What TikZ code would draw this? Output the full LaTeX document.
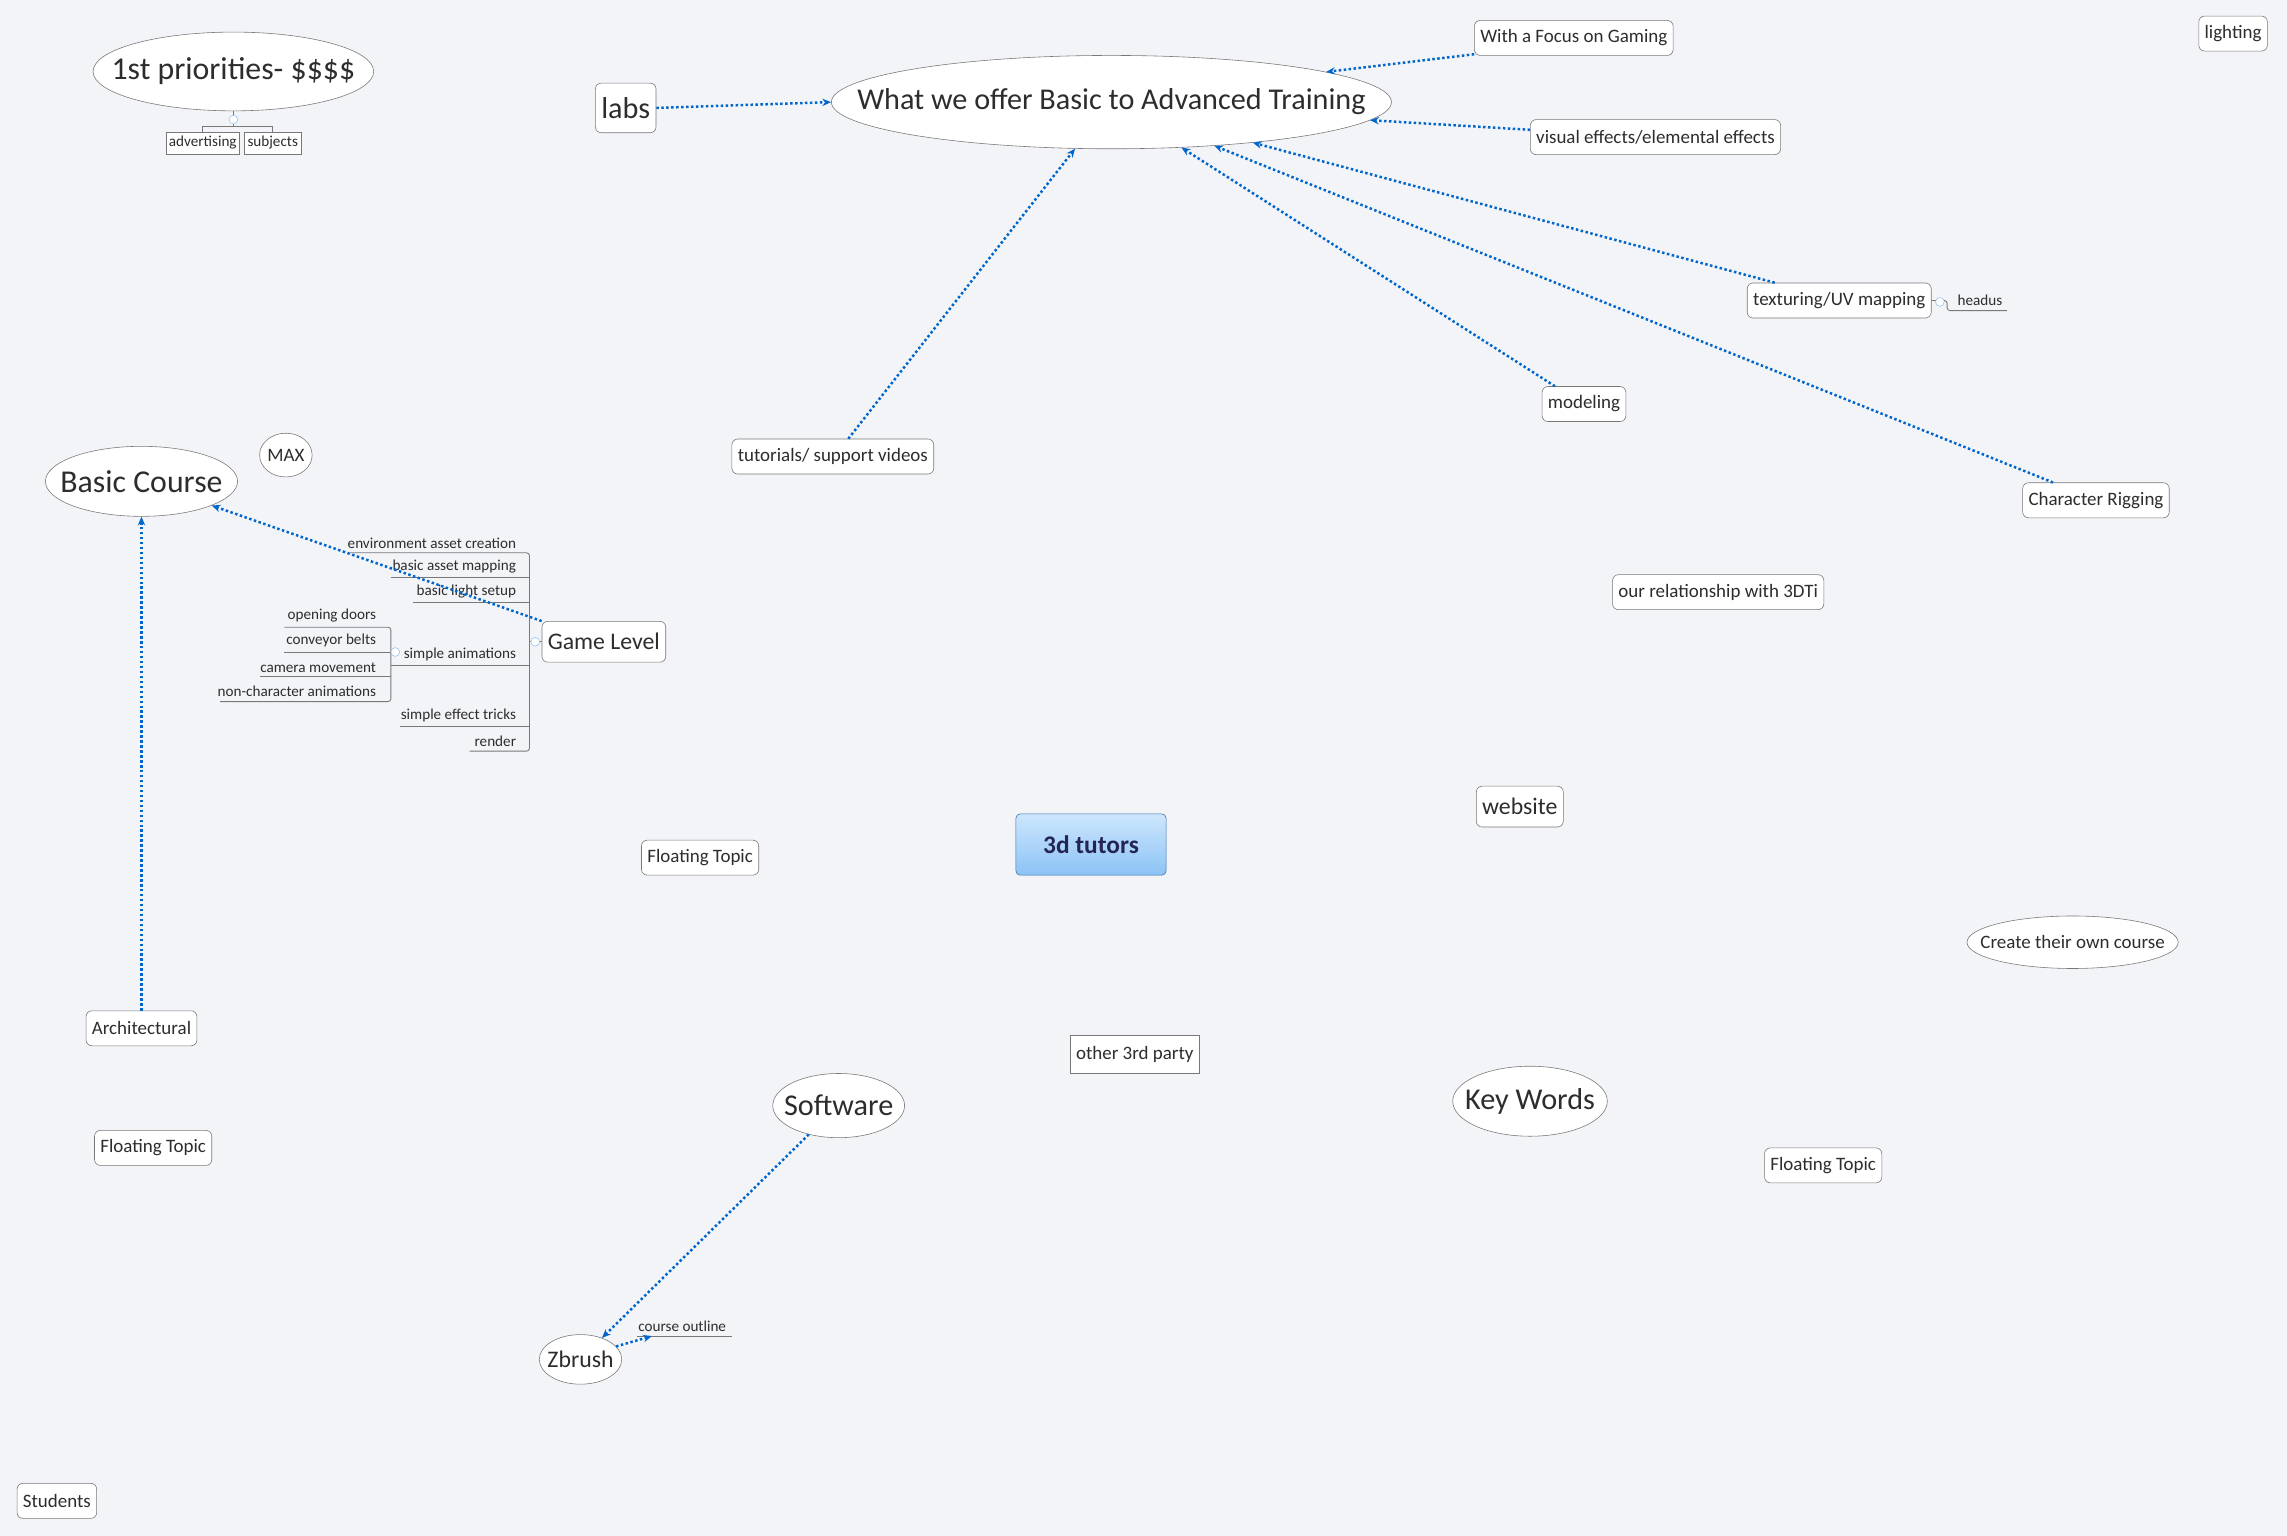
\documentclass[tikz,border=0pt]{standalone}
\usepackage{fontspec}
\setmainfont{Carlito}
\usetikzlibrary{arrows.meta,calc,shapes.geometric}
\definecolor{bg}{RGB}{243,244,247}
\definecolor{lnk}{RGB}{0,102,204}
\definecolor{txt}{RGB}{45,45,45}
\definecolor{edge}{RGB}{120,120,120}
\definecolor{tb1}{RGB}{205,230,252}
\definecolor{tb2}{RGB}{140,195,245}
\tikzset{
  x=1pt,y=-1pt,
  box/.style={draw=edge,fill=white,rounded corners=4pt,text=txt,font=\fontsize{13}{15}\selectfont,minimum height=24pt,inner xsep=4pt,inner ysep=2pt},
  ell/.style={draw=edge,fill=white,ellipse,text=txt,inner ysep=0pt},
  sub/.style={text=txt,font=\fontsize{10.4}{12}\selectfont,inner sep=1pt,anchor=south east},
  tree/.style={draw=edge,line width=0.6pt},
  link/.style={draw=lnk,line width=1.7pt,dash pattern=on 1.7pt off 1.7pt,-{Stealth[length=6pt,width=5pt,open]}},
  colmark/.style={draw=lnk!40,fill=white,circle,inner sep=0pt,minimum size=6pt}
}
\begin{document}
\begin{tikzpicture}
\fill[bg] (0,0) rectangle (1568,1053);
\useasboundingbox (0,0) rectangle (1568,1053);
% main nodes
\node[ell,inner xsep=-39pt,minimum width=384pt,minimum height=64pt,font=\fontsize{20.7}{24}\selectfont] (wwo) at (762,70) {What we offer Basic to Advanced Training};
\node[box] (focus) at (1079,26) {With a Focus on Gaming};
\node[box] (light) at (1531,23) {lighting};
\node[box] (vfx) at (1135,94) {visual effects/elemental effects};
\node[box] (tex) at (1261,206) {texturing/UV mapping};
\node[box] (mod) at (1086,277) {modeling};
\node[box] (rig) at (1437,343) {Character Rigging};
\node[box] (tut) at (571,313) {tutorials/ support videos};
\node[box,minimum height=34pt,font=\fontsize{20.7}{24}\selectfont] (labs) at (429,74) {labs};
\node[ell,inner xsep=-15.5pt,minimum width=178pt,minimum height=54pt,font=\fontsize{21.8}{26}\selectfont] (prio) at (160,49) {1st priorities- \$\$\$\$};
\node[ell,inner xsep=-9pt,minimum width=122pt,minimum height=48pt,font=\fontsize{21.8}{26}\selectfont] (basic) at (97,330) {Basic Course};
\node[ell,inner xsep=0pt,minimum width=36pt,minimum height=30pt,font=\fontsize{13}{15}\selectfont] (max) at (196,312) {MAX};
\node[box,minimum height=28pt,font=\fontsize{16.3}{19}\selectfont] (game) at (414,440) {Game Level};
\node[box] (rel) at (1178,406) {our relationship with 3DTi};
\node[box,minimum height=28pt,font=\fontsize{16.3}{19}\selectfont] (web) at (1042,553) {website};
\node[draw=lnk!60!gray,rounded corners=3pt,top color=tb1,bottom color=tb2,text=txt!80!blue,font=\fontsize{17.4}{20}\bfseries\selectfont,minimum width=103pt,minimum height=42pt] (tutors) at (748,579) {3d tutors};
\node[box] (ft1) at (480,588) {Floating Topic};
\node[ell,inner xsep=-12pt,minimum width=142pt,minimum height=36pt,font=\fontsize{13}{15}\selectfont] (own) at (1421,646) {Create their own course};
\node[draw=edge,fill=white,text=txt,font=\fontsize{13}{15}\selectfont,minimum width=89pt,minimum height=26pt,inner sep=2pt] (third) at (778,723) {other 3rd party};
\node[box] (arch) at (97,705) {Architectural};
\node[box] (ft2) at (105,787) {Floating Topic};
\node[ell,inner xsep=-5.5pt,minimum width=88pt,minimum height=44pt,font=\fontsize{20.7}{24}\selectfont] (soft) at (575,758) {Software};
\node[ell,inner xsep=-7.5pt,minimum width=106pt,minimum height=48pt,font=\fontsize{20.7}{24}\selectfont] (key) at (1049,755) {Key Words};
\node[box] (ft3) at (1250,799) {Floating Topic};
\node[ell,inner xsep=-2.7pt,minimum width=56pt,minimum height=34pt,font=\fontsize{16.3}{19}\selectfont] (zb) at (398,932) {Zbrush};
\node[box] (stud) at (39,1029) {Students};
% priorities subtopics
\node[draw=edge,fill=white,text=txt,font=\fontsize{10.4}{12}\selectfont,minimum height=15pt,inner sep=2pt] (adv) at (139,98) {advertising};
\node[draw=edge,fill=white,text=txt,font=\fontsize{10.4}{12}\selectfont,minimum height=15pt,inner sep=2pt] (subj) at (187,98) {subjects};
\draw[tree] (adv.north) |- (160,87) -| (subj.north);
\draw[tree] (160,87) -- (prio.south);
\node[colmark] (m1) at (160,82) {};
% game level tree
\coordinate (gv) at (363,440);
\draw[tree] (game.west) -- (gv);
\draw[tree,rounded corners=2pt] (240,379) -- (363,379) -- (363,515) -- (322,515);
\draw[tree,rounded corners=2pt] (268,396) -- (363,396);
\draw[tree,rounded corners=2pt] (283,413) -- (363,413);
\draw[tree] (268,456) -- (363,456);
\draw[tree] (274,498) -- (363,498);
\node[sub] (g1) at (355,377) {environment asset creation};
\node[sub] (g2) at (355,394) {basic asset mapping};
\node[sub] (g3) at (355,411) {basic light setup};
\node[sub] (g4) at (355,454) {simple animations};
\node[sub] (g5) at (355,496) {simple effect tricks};
\node[sub] (g6) at (355,513) {render};
\node[colmark] (m2) at (367,440) {};
\draw[tree,rounded corners=2pt] (195,430) -- (268,430) -- (268,481) -- (151,481);
\draw[tree] (195,447) -- (268,447);
\draw[tree] (178,464) -- (268,464);
\node[sub] (a1) at (259,428) {opening doors};
\node[sub] (a2) at (259,445) {conveyor belts};
\node[sub] (a3) at (259,462) {camera movement};
\node[sub] (a4) at (259,479) {non-character animations};
\node[colmark] (m3) at (271,447) {};
% headus
\draw[tree,rounded corners=2pt] (tex.east) -- (1335,206) -- (1335,213) -- (1376,213);
\node[sub] (hd) at (1374,211) {headus};
\node[colmark] (m4) at (1330,207) {};
% course outline
\draw[tree] (437,916) -- (502,916);
\node[sub] (co) at (499,914) {course outline};
\coordinate (coend) at (447,916);
% links
\draw[link] (labs.east) -- (wwo.180);
\draw[link] ($(focus.south west)+(0,-1)$) -- (wwo.8);
\draw[link] ($(vfx.west)+(0,-5)$) -- (wwo.356);
\draw[link] ($(tex.north west)+(19,0)$) -- (wwo.344);
\draw[link] ($(mod.north west)+(9,0)$) -- (wwo.327);
\draw[link] ($(rig.north west)+(21,0)$) -- (wwo.337);
\draw[link] ($(tut.north west)+(80,0)$) -- (wwo.232);
\draw[link] (game.north west) -- (basic.341);
\draw[link] (arch.north) -- (basic.south);
\draw[link] (soft.224) -- (zb.45);
\draw[link] (zb.20) -- (coend);
\end{tikzpicture}
\end{document}
